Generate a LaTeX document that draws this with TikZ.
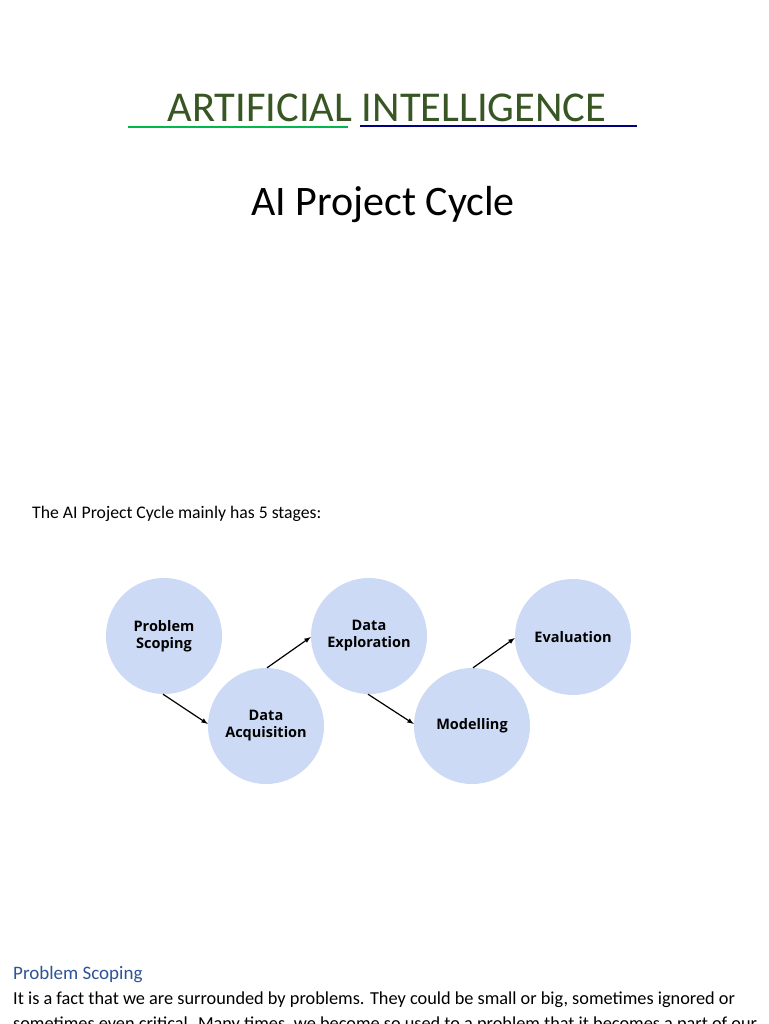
\documentclass[tikz,border=0pt]{standalone}
\usepackage{fontspec}
\setmainfont{Carlito}
\newfontfamily\osans{Open Sans}
\definecolor{tgreen}{HTML}{375623}
\definecolor{cfill}{HTML}{CCDAF5}
\definecolor{hblue}{HTML}{2F5496}
\tikzset{stage/.style={circle,fill=cfill,minimum size=116pt,inner sep=0pt,align=center,font=\osans\bfseries\fontsize{14.5}{17}\selectfont},
arr/.style={-latex,line width=1.2pt,black}}
\begin{document}
\begin{tikzpicture}[x=1pt,y=-1pt]
\clip (0,0) rectangle (768,1024);
\useasboundingbox (0,0) rectangle (768,1024);
\fill[white] (0,0) rectangle (768,1024);
\node[text=tgreen,font=\fontsize{42.5}{46}\selectfont,anchor=base] (t1) at (387,122) {ARTIFICIAL INTELLIGENCE};
\coordinate (g1) at (128,127); \coordinate (g2) at (348,127);
\coordinate (b1) at (360,126); \coordinate (b2) at (637,126);
\draw[green!60!black!70!cyan,line width=1.5pt] (g1) -- (g2);
\draw[blue!50!black,line width=1.5pt] (b1) -- (b2);
\node[font=\fontsize{42}{46}\selectfont,anchor=base] (t2) at (383,215) {AI Project Cycle};
\node[font=\fontsize{17.7}{20}\selectfont,anchor=base west,inner sep=0pt] (t3) at (32,518) {The AI Project Cycle mainly has 5 stages:};
\node[stage] (ps) at (164,636) {Problem\\Scoping};
\node[stage] (da) at (266,726) {Data\\Acquisition};
\node[stage] (de) at (369,636) {Data\\Exploration};
\node[stage] (mo) at (472,726) {Modelling};
\node[stage] (ev) at (573,637) {Evaluation};
\draw[arr] (ps.-91) -- (da.178);
\draw[arr] (da.89) -- (de.181);
\draw[arr] (de.-91) -- (mo.178);
\draw[arr] (mo.89) -- (ev.181);
\node[text=hblue,font=\fontsize{19}{22}\selectfont,anchor=base west,inner sep=0pt] (h) at (13,979) {Problem Scoping};
\node[font=\fontsize{18.3}{22}\selectfont,anchor=base west,inner sep=0pt] (p1) at (13,1004) {It is a fact that we are surrounded by problems. They could be small or big, sometimes ignored or};
\node[font=\fontsize{18.3}{22}\selectfont,anchor=base west,inner sep=0pt] (p2) at (13,1029) {sometimes even critical. Many times, we become so used to a problem that it becomes a part of our};
\end{tikzpicture}
\end{document}
